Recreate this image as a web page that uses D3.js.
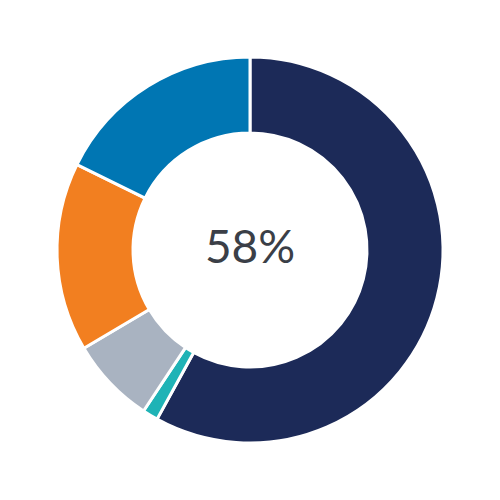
<!DOCTYPE html>
<html>
<head>
<meta charset="utf-8">
<script src="https://cdn.jsdelivr.net/npm/d3@7"></script>
<style>
  body { margin: 0; background: #fff; }
</style>
</head>
<body>
<div id="chart"></div>
<script>
// slice data, clockwise from 12 o'clock
var categories = ['A', 'B', 'C', 'D', 'E'];
var values = [58, 1.3, 7.2, 15.8, 17.7];
var colors = ['#1c2a58', '#1fb3b6', '#a9b3c1', '#f27f20', '#0076b3'];
var center_label = '58%';

var chart_width = 500;
var chart_height = 500;
var outer_radius = 193;
var inner_radius = 117;

var svg = d3.select('#chart')
  .append('svg')
  .attr('width', chart_width)
  .attr('height', chart_height);

var g = svg.append('g')
  .attr('transform', 'translate(250,250)');

var color_scale = d3.scaleOrdinal()
  .domain(categories)
  .range(colors);

var pie = d3.pie()
  .sort(null)
  .value((d, i) => values[i]);

var arc = d3.arc()
  .innerRadius(inner_radius)
  .outerRadius(outer_radius);

g.selectAll('path')
  .data(pie(categories))
  .enter()
  .append('path')
  .attr('d', arc)
  .attr('fill', (d) => color_scale(d.data))
  .attr('stroke', '#fff')
  .attr('stroke-width', 3);

// label in the hole
g.append('text')
  .text(center_label)
  .attr('x', 0)
  .attr('y', 13)
  .attr('text-anchor', 'middle')
  .attr('font-family', 'Lato, "Open Sans", sans-serif')
  .attr('font-size', 46)
  .attr('fill', '#3b3f47');
</script>
</body>
</html>
